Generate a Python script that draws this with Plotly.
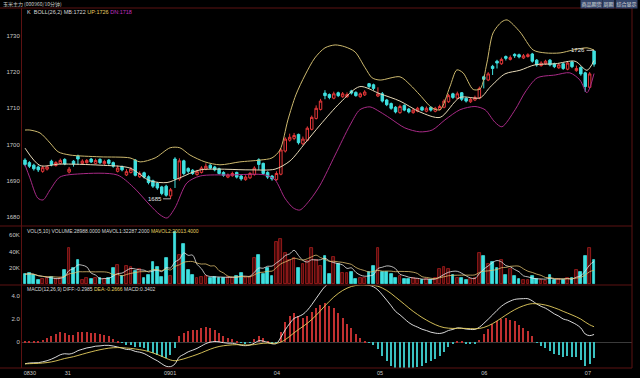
import plotly.graph_objects as go
import pandas as pd
import numpy as np

# ---------------- data ----------------
opens = [1695.7,1695.0,1694.3,1693.8,1692.6,1693.2,1695.4,1694.2,1694.8,1695.9,
         1692.4,1695.4,1696.8,1694.8,1695.0,1696.0,1694.8,1695.9,1694.7,1695.7,
         1695.0,1692.6,1693.9,1691.6,1692.3,1695.7,1691.1,1692.2,1691.1,1690.0,
         1689.3,1688.3,1688.5,1685.8,1696.0,1690.5,1695.5,1693.4,1692.9,1691.7,
         1692.3,1693.2,1694.3,1693.8,1693.3,1692.3,1691.0,1691.4,1692.3,1691.3,
         1690.3,1690.8,1691.7,1695.8,1694.8,1692.3,1691.3,1690.3,1691.8,1698.2,
         1701.2,1701.7,1702.8,1700.2,1701.2,1704.2,1707.2,1709.7,1714.2,1713.8,
         1712.8,1714.3,1713.2,1713.2,1714.8,1714.4,1713.2,1713.7,1716.8,1716.5,
         1713.4,1714.0,1712.3,1711.3,1710.3,1708.8,1710.8,1709.8,1708.8,1709.2,
         1710.3,1709.2,1710.3,1709.2,1709.7,1710.3,1711.8,1714.0,1712.8,1714.3,
         1712.8,1711.8,1712.3,1712.8,1718.7,1717.8,1721.6,1723.0,1722.3,1724.3,
         1723.5,1724.9,1724.8,1723.9,1724.3,1725.0,1723.3,1721.8,1722.3,1723.3,
         1722.3,1721.2,1722.3,1720.8,1722.8,1720.4,1721.3,1719.8,1715.8,1725.8]
closes = [1694.5,1694.0,1693.3,1693.0,1693.6,1693.8,1694.4,1695.0,1695.6,1694.6,
          1693.2,1694.6,1696.0,1695.4,1695.6,1695.2,1695.6,1695.0,1695.3,1694.8,
          1694.0,1693.5,1693.0,1692.5,1693.2,1691.5,1692.0,1691.0,1689.5,1688.5,
          1688.0,1686.5,1686.0,1687.5,1690.5,1695.5,1692.0,1692.6,1692.0,1692.5,
          1693.5,1694.0,1693.5,1693.0,1692.0,1691.5,1691.6,1692.0,1691.0,1690.5,
          1691.0,1692.0,1693.5,1694.5,1692.0,1691.0,1690.5,1692.0,1698.5,1701.5,
          1702.0,1702.5,1700.5,1701.5,1704.5,1707.5,1710.0,1712.0,1713.5,1713.0,
          1714.0,1713.5,1714.0,1713.8,1714.2,1713.5,1714.0,1714.5,1716.0,1715.5,
          1714.0,1712.0,1711.0,1710.0,1709.0,1710.5,1709.5,1709.0,1709.5,1710.0,
          1709.5,1710.0,1709.5,1710.0,1710.5,1712.0,1713.5,1713.0,1714.0,1712.5,
          1712.0,1712.5,1713.0,1715.5,1718.0,1719.5,1721.0,1722.5,1723.5,1723.8,
          1724.0,1724.5,1724.2,1724.5,1724.8,1723.0,1722.0,1722.5,1723.0,1722.0,
          1721.5,1722.0,1721.0,1722.5,1721.5,1721.0,1719.5,1716.0,1719.5,1722.2]
highs = [1696.2,1695.4,1694.7,1694.2,1694.1,1694.3,1695.8,1695.4,1696.1,1696.2,
         1693.8,1695.7,1697.2,1695.9,1696.0,1696.3,1696.1,1696.2,1695.8,1696.0,
         1695.3,1694.2,1694.2,1693.2,1693.8,1696.0,1692.6,1692.5,1691.5,1690.3,
         1689.6,1688.6,1688.9,1688.0,1696.5,1696.2,1695.8,1693.7,1693.2,1693.0,
         1694.0,1694.8,1694.6,1694.1,1693.6,1692.6,1692.0,1692.5,1692.5,1691.6,
         1691.5,1692.4,1694.0,1696.2,1695.0,1692.6,1691.6,1692.6,1699.0,1702.0,
         1703.0,1703.2,1703.0,1702.2,1705.0,1708.0,1710.8,1712.6,1715.0,1714.1,
         1714.6,1714.6,1714.5,1714.4,1715.1,1714.7,1714.4,1715.0,1717.0,1716.8,
         1715.8,1714.5,1712.6,1711.6,1710.6,1711.0,1711.1,1710.1,1710.0,1710.4,
         1710.6,1710.5,1710.5,1710.4,1711.0,1712.5,1714.0,1714.3,1714.6,1714.5,
         1713.0,1713.0,1713.5,1716.0,1719.0,1720.0,1722.0,1723.4,1724.0,1724.6,
         1724.6,1725.2,1725.1,1725.0,1725.2,1725.3,1723.6,1723.0,1723.4,1723.6,
         1722.6,1722.5,1722.6,1723.0,1723.1,1721.8,1721.6,1720.1,1720.0,1726.0]
lows = [1694.0,1693.5,1692.8,1692.4,1692.2,1692.8,1694.0,1693.9,1694.5,1694.3,
        1692.0,1693.9,1694.5,1694.5,1694.7,1694.9,1694.5,1694.6,1694.4,1694.4,
        1693.6,1692.3,1692.6,1691.3,1692.0,1691.2,1690.8,1690.6,1689.0,1688.0,
        1687.5,1686.0,1685.6,1685.0,1688.0,1690.0,1691.5,1692.0,1691.6,1691.4,
        1692.0,1692.9,1693.1,1692.6,1691.7,1691.1,1690.7,1691.1,1690.6,1690.0,
        1690.0,1690.5,1691.4,1693.0,1691.6,1690.5,1690.0,1690.0,1691.5,1697.8,
        1700.8,1701.2,1700.0,1699.8,1700.9,1703.9,1706.9,1709.4,1712.5,1712.5,
        1712.5,1713.1,1712.9,1712.9,1713.8,1713.2,1712.9,1713.4,1715.5,1715.0,
        1713.1,1711.6,1710.6,1709.6,1708.6,1708.5,1709.2,1708.6,1708.5,1708.9,
        1709.2,1708.9,1709.1,1708.9,1709.4,1710.0,1711.5,1712.6,1712.5,1712.0,
        1711.6,1711.5,1712.0,1712.5,1715.5,1717.5,1719.2,1721.0,1722.0,1723.2,
        1723.2,1723.9,1723.8,1723.6,1724.0,1722.6,1721.5,1721.5,1722.0,1721.6,
        1721.1,1720.9,1720.6,1720.5,1721.1,1720.1,1719.0,1714.5,1715.5,1721.5]
volumes_k = [12,13,11,5,6,7,9,6,7,17,
             44,20,29,5,7,6,8,7,6,8,
             20,23,10,22,21,16,18,8,11,27,
             21,9,32,10,64,36,49,17,11,8,
             9,10,8,9,7,8,9,8,10,13,
             8,9,32,36,12,20,10,52,55,38,
             30,32,20,25,28,44,30,22,34,12,
             33,24,14,13,15,6,7,7,15,22,
             44,15,15,12,8,10,6,6,7,6,
             5,6,5,8,19,21,19,11,8,7,
             5,6,8,38,34,25,27,20,30,11,
             18,10,6,5,5,10,6,5,4,11,
             5,6,5,7,7,17,15,34,44,29]

# Bollinger band curves (bar index, price)
boll_up_x = [0,1.1,3.4,5.7,7.5,10.2,17.0,23.8,26.1,29.5,32.9,35.1,37.4,40.8,44.2,48.7,53.3,56.0,57.8,59.6,
             61.4,63.5,65.7,68.0,70.3,72.5,74.8,77.1,78.7,80.5,85.0,87.3,89.5,92.3,94.1,96.3,97.9,99.3,
             101.6,103.2,104.7,106.1,108.1,109.3,112.2,115.2,117.9,121.3,124.2,127.4,129.0]
boll_up_y = [1704.0,1704.0,1703.2,1700.4,1698.0,1697.1,1696.6,1696.3,1695.2,1696.3,1699.1,1699.1,1697.1,
             1695.2,1694.4,1695.2,1695.7,1696.3,1698.5,1706.8,1713.7,1719.2,1723.9,1726.7,1727.5,1727.0,
             1725.6,1721.2,1718.4,1717.8,1718.7,1716.5,1713.7,1710.1,1709.6,1715.9,1720.6,1719.8,1715.2,
             1715.4,1722.5,1730.8,1733.9,1734.4,1731.1,1726.1,1725.3,1725.3,1726.1,1726.7,1726.1]
boll_mid_x = [0,3.4,7.9,17.0,23.8,28.3,32.2,35.1,39.7,51.0,56.7,60.1,63.5,66.9,71.4,75.9,80.5,85.0,89.5,
              94.1,98.6,103.2,105.4,108.8,112.2,115.6,120.2,124.7,127.4,129.0]
boll_mid_y = [1699.0,1694.2,1694.6,1694.3,1693.5,1690.0,1689.5,1690.8,1693.0,1693.0,1693.2,1695.5,1700.4,
              1705.4,1711.5,1716.0,1714.0,1712.0,1709.0,1707.5,1713.0,1712.9,1715.8,1719.5,1720.5,1722.0,
              1722.3,1723.0,1720.5,1723.2]
boll_dn_x = [0,1.1,2.9,4.1,5.7,7.9,12.5,20.9,24.5,28.3,30.6,32.2,34.0,36.7,39.7,46.5,54.4,56.7,58.9,60.8,
             62.3,64.6,66.9,70.3,73.7,75.9,78.2,80.5,82.7,86.1,89.5,92.3,95.2,98.6,102.0,104.3,106.5,108.1,
             111.1,113.4,116.1,120.2,123.5,125.8,127.4,129.0]
boll_dn_y = [1694.4,1690.8,1685.2,1684.7,1687.5,1691.0,1691.9,1691.6,1688.3,1683.3,1680.6,1679.7,1682.5,
             1689.4,1691.3,1691.6,1691.6,1690.2,1685.2,1682.5,1681.9,1684.7,1688.8,1697.1,1705.4,1709.6,
             1710.4,1709.0,1707.3,1704.6,1703.5,1704.0,1706.8,1709.6,1710.5,1709.6,1706.2,1704.9,1709.6,
             1714.5,1718.4,1719.2,1719.8,1717.8,1714.3,1719.6]

# MACD state at the left edge of the chart
ema12_start, ema26_start, dea_start = 1695.0, 1697.0, -1.9

day_tick_pos = [1.1, 9.7, 32.9, 57.1, 80.5, 104.1, 127.6]
day_tick_text = ["0830", "31", "0901", "04", "05", "06", "07"]
price_ticks = [1680, 1690, 1700, 1710, 1720, 1730]
vol_ticks = [20000, 40000, 60000]
vol_tick_text = ["20K", "40K", "60K"]
macd_ticks = [0, 2, 4]
macd_tick_text = ["0", "2.0", "4.0"]

# ---------------- derived indicators ----------------
n = len(closes)
idx = list(range(n))
vol = pd.Series(volumes_k) * 1000
mav1 = vol.rolling(5, min_periods=1).mean()
mav2 = vol.rolling(10, min_periods=1).mean()

e12, e26, dea = ema12_start, ema26_start, dea_start
diff_l, dea_l = [], []
for px in closes:
    e12 = e12 + 2 / 13 * (px - e12)
    e26 = e26 + 2 / 27 * (px - e26)
    d = e12 - e26
    dea = dea + 2 / 10 * (d - dea)
    diff_l.append(d)
    dea_l.append(dea)
macd_hist = [2 * (a - b) for a, b in zip(diff_l, dea_l)]

RED = "#e8383a"
CYAN = "#3fe0e0"
DRED = "#5c1212"
up_bar = [cl >= op for op, cl in zip(opens, closes)]

fig = go.Figure()
fig.add_trace(go.Scatter(x=boll_up_x, y=boll_up_y, mode="lines", line=dict(color="#cdb96e", width=1, shape="spline", smoothing=0.8),
                         xaxis="x", yaxis="y", showlegend=False))
fig.add_trace(go.Scatter(x=boll_mid_x, y=boll_mid_y, mode="lines", line=dict(color="#e6d9b8", width=1, shape="spline", smoothing=0.8),
                         xaxis="x", yaxis="y", showlegend=False))
fig.add_trace(go.Scatter(x=boll_dn_x, y=boll_dn_y, mode="lines", line=dict(color="#a82a86", width=1, shape="spline", smoothing=0.8),
                         xaxis="x", yaxis="y", showlegend=False))
fig.add_trace(go.Candlestick(
    x=idx, open=opens, high=highs, low=lows, close=closes,
    increasing=dict(line=dict(color=RED, width=1), fillcolor="#000000"),
    decreasing=dict(line=dict(color=CYAN, width=1), fillcolor=CYAN),
    whiskerwidth=0, xaxis="x", yaxis="y", showlegend=False, hoverinfo="skip"))

fig.add_trace(go.Bar(x=idx, y=vol, width=0.62,
                     marker=dict(color=["#420a0a" if u else CYAN for u in up_bar],
                                 line=dict(color=["#b02020" if u else CYAN for u in up_bar], width=0.8)),
                     xaxis="x2", yaxis="y2", showlegend=False))
fig.add_trace(go.Scatter(x=idx, y=mav1, mode="lines", line=dict(color="#e8e8e8", width=0.8, shape="spline"),
                         xaxis="x2", yaxis="y2", showlegend=False))
fig.add_trace(go.Scatter(x=idx, y=mav2, mode="lines", line=dict(color="#e0c070", width=0.8, shape="spline"),
                         xaxis="x2", yaxis="y2", showlegend=False))

fig.add_trace(go.Bar(x=idx, y=macd_hist, width=0.28,
                     marker=dict(color=["#c03030" if v >= 0 else "#3ac0c0" for v in macd_hist], line=dict(width=0)),
                     xaxis="x3", yaxis="y3", showlegend=False))
fig.add_trace(go.Scatter(x=idx, y=diff_l, mode="lines", line=dict(color="#f0f0f0", width=0.9, shape="spline"),
                         xaxis="x3", yaxis="y3", showlegend=False))
fig.add_trace(go.Scatter(x=idx, y=dea_l, mode="lines", line=dict(color="#e8d060", width=0.9, shape="spline"),
                         xaxis="x3", yaxis="y3", showlegend=False))

TOP, BOT = 8, 368
def py(p):  # pixel row -> paper y
    return (BOT - p) / (BOT - TOP)
def pxx(p):  # pixel col -> paper x
    return (p - 22) / 610

xr = [-0.68, 137.6]
axis_font = dict(family="Liberation Sans, DejaVu Sans", size=6, color="#c8c8c8")
common_x = dict(range=xr, showgrid=False, zeroline=False, showline=False, fixedrange=True, automargin=False)
fig.update_layout(
    width=640, height=378, margin=dict(l=22, r=8, t=8, b=10, autoexpand=False),
    paper_bgcolor="#000000", plot_bgcolor="#000000", bargap=0, barmode="overlay", boxgap=0.2,
    xaxis=dict(domain=[0, 1], anchor="y", showticklabels=False, rangeslider=dict(visible=False), **common_x),
    xaxis2=dict(domain=[0, 1], anchor="y2", showticklabels=False, matches="x", **common_x),
    xaxis3=dict(domain=[0, 1], anchor="y3", tickmode="array", tickvals=day_tick_pos, ticktext=day_tick_text,
                tickfont=dict(family="Liberation Sans, DejaVu Sans", size=5.5, color="#c8c8c8"),
                ticks="", ticklen=0, matches="x", **common_x),
    yaxis=dict(domain=[py(226), 1], range=[1677.5, 1737.7], tickmode="array", tickvals=price_ticks,
               tickfont=axis_font, showgrid=False, zeroline=False, showline=True, linecolor=DRED, linewidth=1,
               ticks="", fixedrange=True, automargin=False),
    yaxis2=dict(domain=[py(285), py(226)], range=[-1200, 71200], tickmode="array", tickvals=vol_ticks,
                ticktext=vol_tick_text, tickfont=axis_font, showgrid=False, zeroline=False, showline=True,
                linecolor=DRED, linewidth=1, ticks="", fixedrange=True, automargin=False),
    yaxis3=dict(domain=[0, py(285)], range=[-2.26, 4.96], tickmode="array", tickvals=macd_ticks,
                ticktext=macd_tick_text, tickfont=axis_font, showgrid=False, zeroline=True, zerolinecolor="#3a3a3a",
                zerolinewidth=1, showline=True, linecolor=DRED, linewidth=1, ticks="", fixedrange=True,
                automargin=False),
    showlegend=False,
)

# panel separators and frame
for yy in [TOP, 226, 285, BOT]:
    fig.add_shape(type="line", xref="paper", yref="paper", x0=-22 / 610, x1=1, y0=py(yy), y1=py(yy),
                  line=dict(color=DRED, width=1))
fig.add_shape(type="line", xref="paper", yref="paper", x0=1, x1=1, y0=0, y1=py(TOP) + 0.02,
              line=dict(color=DRED, width=1))

hf = "Liberation Sans, DejaVu Sans"
def header(text, prow, size=5.5):
    fig.add_annotation(xref="paper", yref="paper", x=pxx(25), y=py(prow), xanchor="left", yanchor="middle",
                       text=text, showarrow=False, font=dict(family=hf, size=size, color="#d8d8d8"))

header('K  BOLL(26,2) MB:1722 <span style="color:#e6d060">UP:1726</span> '
       '<span style="color:#c030c0">DN:1718</span>', 12, 5.5)
header('VOL(5,10) VOLUME:28988.0000 MAVOL1:32287.2000 <span style="color:#e6d060">MAVOL2:20013.4000</span>', 231, 5)
header('MACD(12,26,9) DIFF:-0.2985 <span style="color:#e6d060">DEA:-0.2666</span> MACD:0.3402', 289, 5)

# title strip
fig.add_annotation(xref="paper", yref="paper", x=pxx(1), y=py(3.5), xanchor="left", yanchor="middle",
                   text="玉米主力 (000960/10分钟)", showarrow=False,
                   font=dict(family="Noto Sans CJK SC", size=5, color="#c8c8c8"))
for label, xp in [("商品期货", 591), ("周期", 608), ("综合显示", 626)]:
    fig.add_annotation(xref="paper", yref="paper", x=pxx(xp), y=py(3.5), xanchor="center", yanchor="middle",
                       text=label, showarrow=False, bgcolor="#34456a", borderpad=0.5,
                       font=dict(family="Noto Sans CJK SC", size=5, color="#e0e0e0"))

# max / min markers
imax = int(np.argmax(highs))
imin = int(np.argmin(lows))
fig.add_annotation(x=imax, y=highs[imax], xref="x", yref="y", text=f"{highs[imax]:.0f}", showarrow=True,
                   arrowhead=0, arrowwidth=0.8, arrowcolor="#e0e0e0", ax=-16, ay=0,
                   font=dict(family=hf, size=6, color="#e8e8e8"))
fig.add_annotation(x=imin, y=lows[imin], xref="x", yref="y", text=f"{lows[imin]:.0f}", showarrow=True,
                   arrowhead=0, arrowwidth=0.8, arrowcolor="#e0e0e0", ax=-16, ay=0,
                   font=dict(family=hf, size=6, color="#e8e8e8"))

fig.write_html("out.html")
